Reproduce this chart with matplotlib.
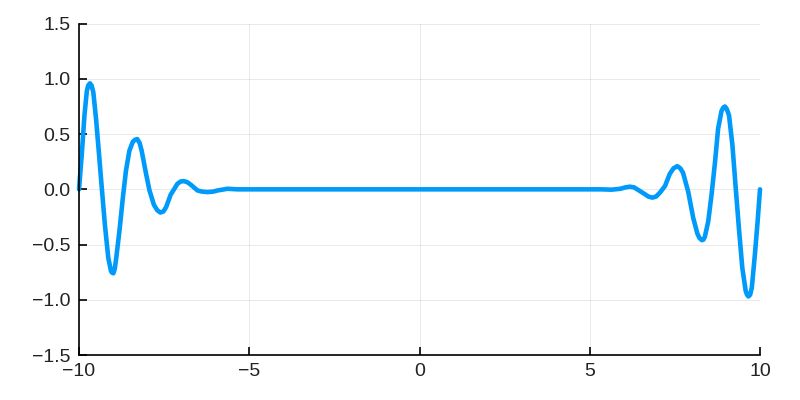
import matplotlib
matplotlib.use('Agg')
import matplotlib.pyplot as plt

# values
left_x = [-10.00, -9.92, -9.84, -9.77, -9.73, -9.68, -9.63, -9.58, -9.50, -9.41,
          -9.33, -9.24, -9.14, -9.06, -9.03, -8.99, -8.95, -8.91, -8.81, -8.71,
          -8.62, -8.52, -8.42, -8.36, -8.29, -8.22, -8.16, -8.03, -7.93, -7.80,
          -7.70, -7.61, -7.52, -7.44, -7.31, -7.11, -7.02, -6.93, -6.82, -6.71,
          -6.52, -6.40, -6.23, -6.05, -5.93, -5.64, -5.34]
left_y = [0.00, 0.31, 0.67, 0.89, 0.94, 0.96, 0.94, 0.88, 0.64, 0.31,
          0.01, -0.32, -0.62, -0.74, -0.755, -0.76, -0.72, -0.63, -0.37, -0.07,
          0.17, 0.35, 0.43, 0.448, 0.455, 0.42, 0.35, 0.14, -0.01, -0.14,
          -0.19, -0.21, -0.20, -0.16, -0.05, 0.05, 0.07, 0.075, 0.065, 0.04,
          -0.01, -0.02, -0.025, -0.02, -0.01, 0.005, 0.0]

mid_x = [-5.0, -2.5, 0.0, 2.5, 5.0]
mid_y = [0.0, 0.0, 0.0, 0.0, 0.0]

right_x = [5.34, 5.64, 5.90, 6.05, 6.18, 6.30, 6.47, 6.60, 6.72, 6.84,
           6.95, 7.06, 7.21, 7.35, 7.46, 7.57, 7.66, 7.74, 7.89, 8.04,
           8.16, 8.22, 8.29, 8.34, 8.38, 8.48, 8.58, 8.68, 8.77, 8.87,
           8.92, 8.97, 9.02, 9.09, 9.19, 9.28, 9.38, 9.48, 9.58, 9.62,
           9.66, 9.71, 9.76, 9.85, 9.93, 10.00]
right_y = [0.0, -0.003, 0.005, 0.018, 0.024, 0.018, -0.015, -0.04, -0.065, -0.075,
           -0.065, -0.03, 0.03, 0.14, 0.19, 0.21, 0.19, 0.15, -0.02, -0.26,
           -0.40, -0.44, -0.46, -0.455, -0.43, -0.29, -0.04, 0.25, 0.55, 0.71,
           0.74, 0.75, 0.73, 0.67, 0.40, 0.04, -0.35, -0.71, -0.92, -0.955,
           -0.97, -0.955, -0.89, -0.59, -0.29, 0.0]

xticks = [-10, -5, 0, 5, 10]
yticks = [-1.5, -1.0, -0.5, 0.0, 0.5, 1.0, 1.5]

x = left_x + mid_x + right_x
y = left_y + mid_y + right_y

plt.rcParams['font.family'] = ['Liberation Sans', 'DejaVu Sans']

fig = plt.figure(figsize=(8, 4), dpi=100)
ax = fig.add_axes([0.09875, 0.1125, 0.85125, 0.8283])

ax.plot(x, y, color='#009AFA', lw=3.3, solid_joinstyle='round',
        solid_capstyle='round', clip_on=False)

ax.set_xlim(-10, 10)
ax.set_ylim(-1.5, 1.5)
ax.set_xticks(xticks)
ax.set_yticks(yticks)
ax.set_xticklabels([str(t).replace('-', '\u2212') for t in xticks])
ax.set_yticklabels([('%.1f' % t).replace('-', '\u2212') for t in yticks])

ax.grid(True, color='black', alpha=0.1, lw=0.6)
ax.set_axisbelow(True)
for s in ['top', 'right']:
    ax.spines[s].set_visible(False)
for s in ['left', 'bottom']:
    ax.spines[s].set_linewidth(1.2)
ax.tick_params(direction='in', length=6, width=1.2, labelsize=14,
               labelcolor='#222222', pad=6)

fig.savefig('out.png', dpi=100)
